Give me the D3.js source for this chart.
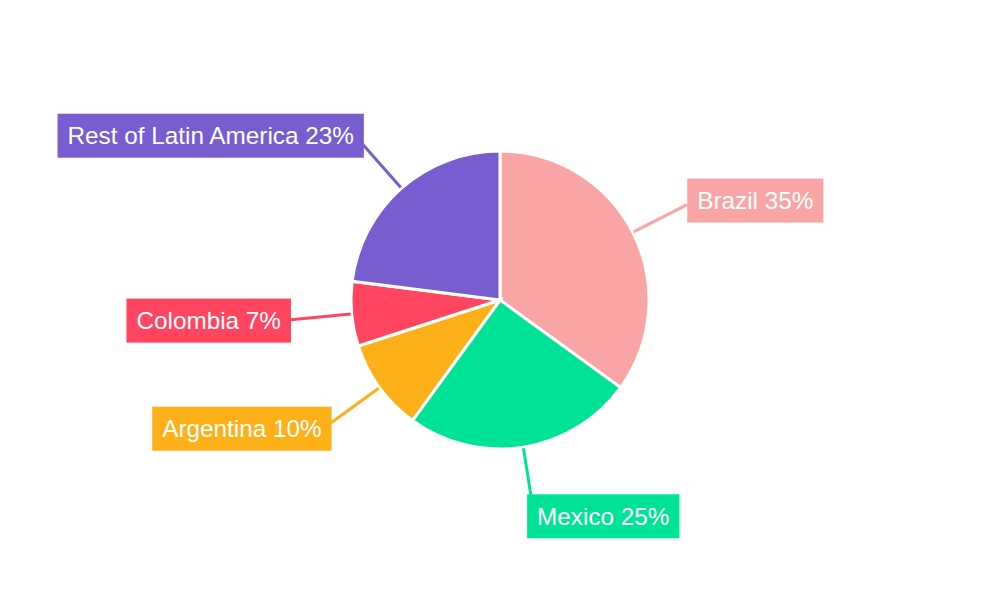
<!DOCTYPE html>
<html lang="en">
<head>
    <meta charset="UTF-8">
    <title>Latin America share</title>
    <script src="https://d3js.org/d3.v7.min.js"></script>
    <style>
        body { margin: 0; background: #fff; }
        svg { display: block; }
    </style>
</head>
<body>
<script>

  // DATA
  const countries = ["Brazil", "Mexico", "Argentina", "Colombia", "Rest of Latin America"];
  const shares = [35, 25, 10, 7, 23];
  const colors = ["#F9A5A6", "#00E396", "#FEB019", "#FF4560", "#775DD0"];

  const width = 1000, height = 600;
  const cx = 500, cy = 300;
  const radius = 149;

  let svg = d3.select("body").append("svg")
                .attr("width", width)
                .attr("height", height)

  const rows = countries.map((c, i) => ({name: c, value: shares[i], color: colors[i]}));

  const pie = d3.pie().sort(null).value(d => d.value);
  const arcs = pie(rows);

  const arc = d3.arc().innerRadius(0).outerRadius(radius);
  const lineStart = d3.arc().innerRadius(radius + 1).outerRadius(radius + 1);
  const lineEnd = d3.arc().innerRadius(210).outerRadius(210);

  let g = svg.append("g").attr("transform", `translate(${cx},${cy})`)

  // SLICES
  g.selectAll("path.slice")
    .data(arcs)
    .join("path")
    .attr("class", "slice")
    .attr("d", arc)
    .attr("fill", d => d.data.color)
    .attr("stroke", "#fff")
    .attr("stroke-width", 3)

  // LEADER LINES
  g.selectAll("line.leader")
    .data(arcs)
    .join("line")
    .attr("class", "leader")
    .attr("x1", d => lineStart.centroid(d)[0])
    .attr("y1", d => lineStart.centroid(d)[1])
    .attr("x2", d => lineEnd.centroid(d)[0])
    .attr("y2", d => lineEnd.centroid(d)[1])
    .attr("stroke", d => d.data.color)
    .attr("stroke-width", 3)

  // LABELS (box + text)
  const pad = 10, boxH = 44;
  arcs.forEach(d => {
    const mid = (d.startAngle + d.endAngle) / 2;
    const s = Math.sin(mid), c = Math.cos(mid);
    const [ex, ey] = lineEnd.centroid(d);
    const right = s >= 0;
    const edgeX = ex - (right ? 1 : -1) * 8 * (1 - Math.abs(s)) + (right ? 1 : 0);
    const midY = ey - 9 * c;

    let lg = g.append("g");
    let rect = lg.append("rect").attr("fill", d.data.color);
    let txt = lg.append("text")
        .text(`${d.data.name} ${d.data.value}%`)
        .attr("font-family", "'Liberation Sans', Arial, sans-serif")
        .attr("font-size", 24.3)
        .attr("fill", "#fff")
        .attr("dy", "0.35em")
        .attr("y", midY);
    const tw = txt.node().getComputedTextLength();
    const boxW = tw + pad * 2;
    const boxX = right ? edgeX : edgeX - boxW;
    rect.attr("x", boxX).attr("y", midY - boxH / 2).attr("width", boxW).attr("height", boxH);
    txt.attr("x", boxX + pad);
  });

</script>
</body>
</html>
